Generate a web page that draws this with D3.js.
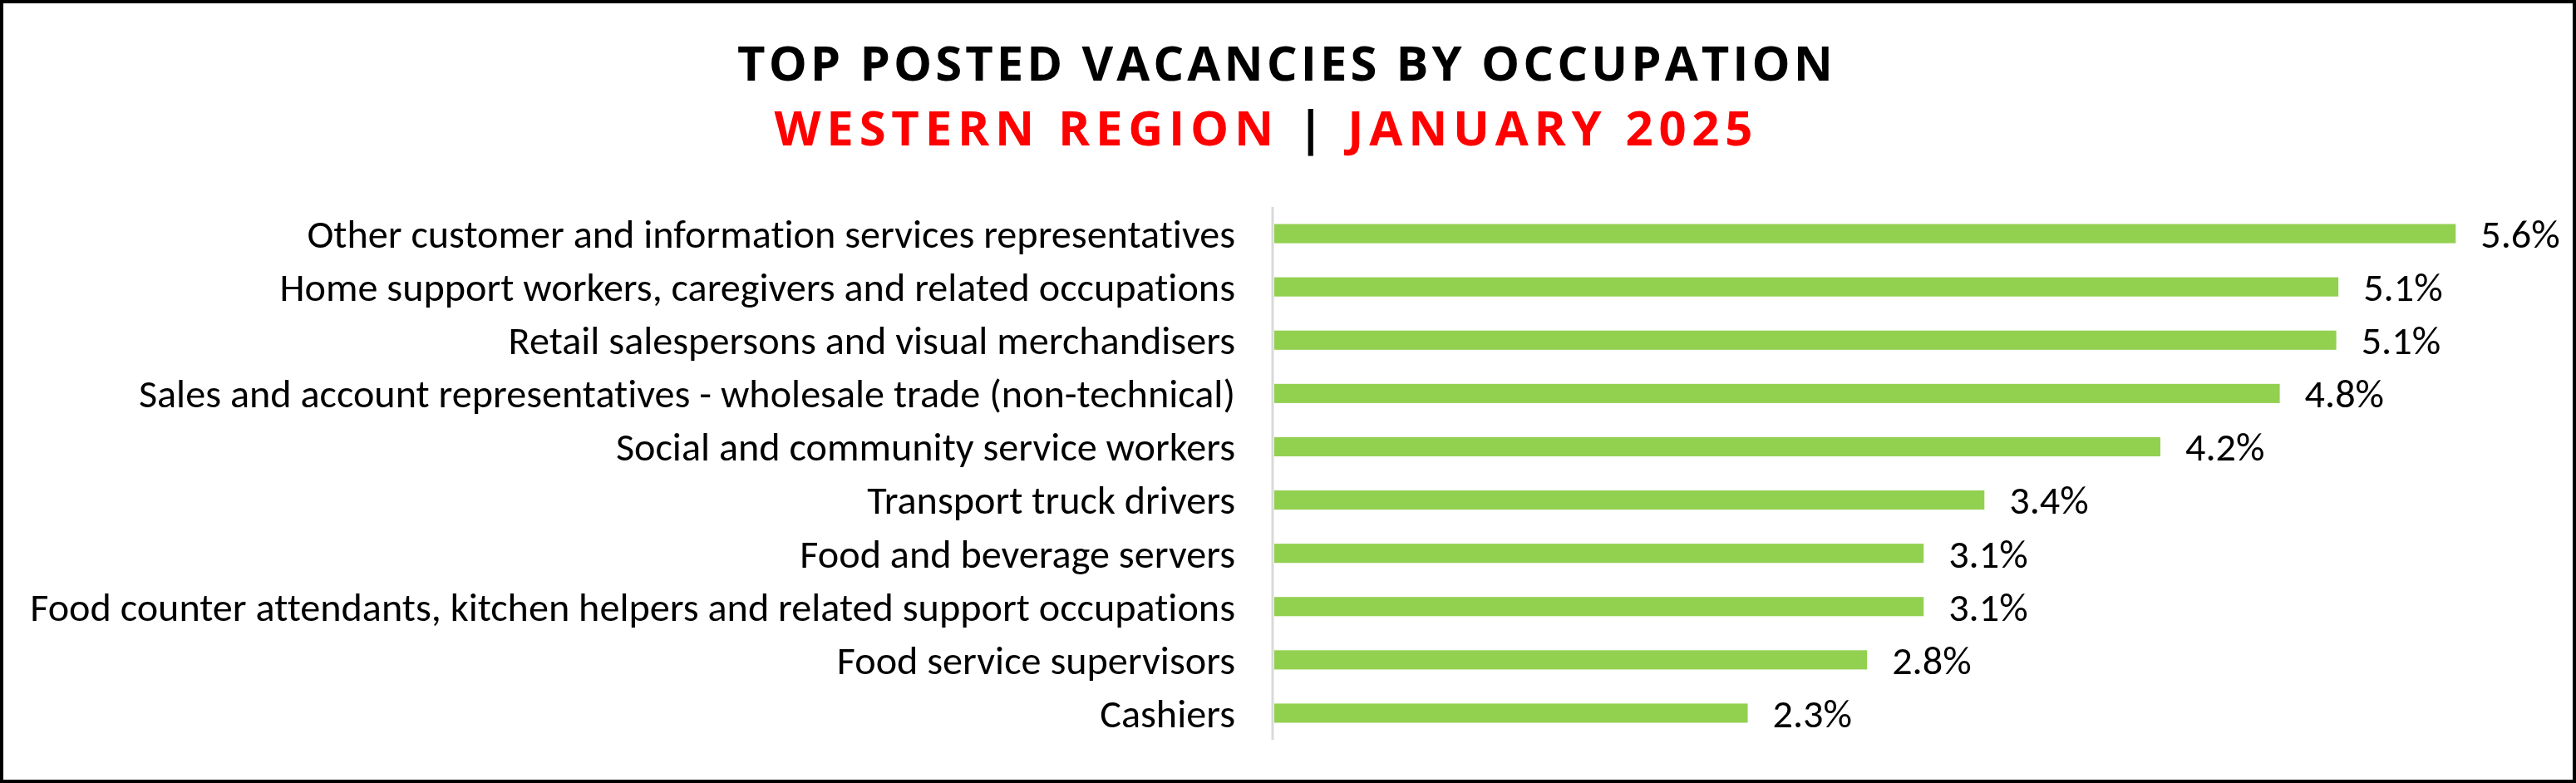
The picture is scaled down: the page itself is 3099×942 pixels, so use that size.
<!DOCTYPE html>
<html>
<head>
<meta charset="utf-8">
<script src="https://cdn.jsdelivr.net/npm/d3@7"></script>
<style>
  html, body { margin: 0; padding: 0; background: #fff; }
  svg { display: block; }
  text { font-variant-ligatures: none; }
</style>
</head>
<body>
<div id="container"></div>
<script>

// chart data, top to bottom
const occupations = [
  "Other customer and information services representatives",
  "Home support workers, caregivers and related occupations",
  "Retail salespersons and visual merchandisers",
  "Sales and account representatives - wholesale trade (non-technical)",
  "Social and community service workers",
  "Transport truck drivers",
  "Food and beverage servers",
  "Food counter attendants, kitchen helpers and related support occupations",
  "Food service supervisors",
  "Cashiers"
];
const shares = [5.64, 5.08, 5.07, 4.80, 4.23, 3.39, 3.10, 3.10, 2.83, 2.26];
const titleText = "TOP POSTED VACANCIES BY OCCUPATION";
const regionText = "WESTERN REGION";
const monthText = "JANUARY 2025";

const width = 3099;
const height = 942;
const GREEN = "#92D050";
const labelFont = "Carlito, Calibri, 'Liberation Sans Narrow', 'Open Sans', sans-serif";

const data = occupations.map((name, i) => ({ name, value: shares[i] }));

const svg = d3.create("svg")
    .attr("width", width)
    .attr("height", height);

// outer frame
svg.append("rect")
    .attr("x", 2).attr("y", 2)
    .attr("width", width - 4).attr("height", height - 4)
    .attr("fill", "#fff")
    .attr("stroke", "#000")
    .attr("stroke-width", 4);

// titles
svg.append("text")
    .attr("x", 1546).attr("y", 97)
    .attr("text-anchor", "middle")
    .attr("font-family", "'Open Sans', sans-serif")
    .attr("font-weight", 700)
    .attr("font-size", 58)
    .attr("textLength", 1318)
    .attr("lengthAdjust", "spacing")
    .attr("fill", "#000")
    .text(titleText);

const sub = svg.append("text")
    .attr("x", 1520).attr("y", 175)
    .attr("text-anchor", "middle")
    .attr("font-family", "'Open Sans', sans-serif")
    .attr("font-weight", 700)
    .attr("font-size", 58)
    .attr("textLength", 1177)
    .attr("lengthAdjust", "spacing");
sub.append("tspan").attr("fill", "#FF0000").text(regionText + " ");
sub.append("tspan").attr("fill", "#000").text("|");
sub.append("tspan").attr("fill", "#FF0000").text(" " + monthText);

// scales
const x = d3.scaleLinear()
    .domain([0, 6])
    .range([1533, 1533 + 252 * 6]);

const y = d3.scaleBand()
    .domain(occupations)
    .range([249, 890])
    .paddingInner(0.64)
    .paddingOuter(0.32);

// bars
svg.append("g").selectAll("rect")
    .data(data)
    .join("rect")
    .attr("x", x(0))
    .attr("y", d => y(d.name))
    .attr("width", d => x(d.value) - x(0))
    .attr("height", y.bandwidth())
    .attr("fill", GREEN);

// vertical axis line
svg.append("line")
    .attr("x1", 1531).attr("x2", 1531)
    .attr("y1", 249).attr("y2", 890)
    .attr("stroke", "#D9D9D9")
    .attr("stroke-width", 3);

// category labels
const labels = svg.append("g").selectAll("text")
    .data(data)
    .join("text")
    .attr("x", 1486)
    .attr("y", d => y(d.name) + y.bandwidth() / 2)
    .attr("dy", "0.35em")
    .attr("text-anchor", "end")
    .attr("font-family", labelFont)
    .attr("font-size", 45)
    .attr("fill", "#000")
    .text(d => d.name);

// value labels
const values = svg.append("g").selectAll("text")
    .data(data)
    .join("text")
    .attr("x", d => x(d.value) + 30)
    .attr("y", d => y(d.name) + y.bandwidth() / 2)
    .attr("dy", "0.35em")
    .attr("font-family", labelFont)
    .attr("font-size", 45)
    .attr("fill", "#000")
    .text(d => d.value.toFixed(1) + "%");

container.append(svg.node());

// fit the label font so the longest label spans like the original
let longest = d3.max(labels.nodes(), n => n.getComputedTextLength());
if (longest > 0) {
  const fs = 45 * 1450 / longest;
  labels.attr("font-size", fs);
  values.attr("font-size", fs);
}

</script>
</body>
</html>
